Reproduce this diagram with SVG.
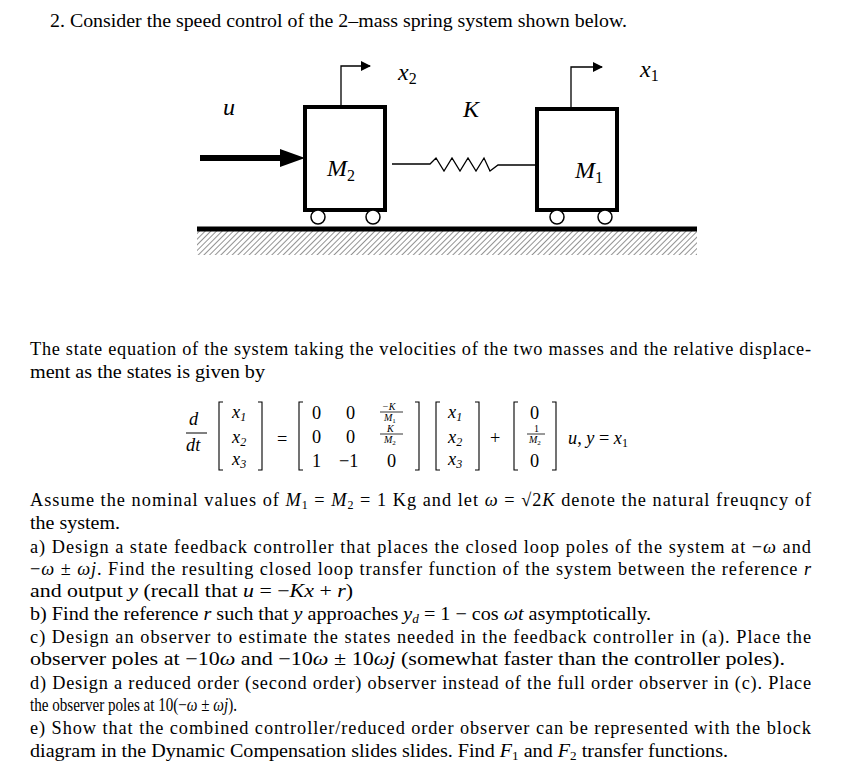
<svg xmlns="http://www.w3.org/2000/svg" width="857" height="774" viewBox="0 0 857 774" font-family="'Liberation Serif', 'DejaVu Serif', serif">
<defs>
<pattern id="hatch" width="4" height="4" patternUnits="userSpaceOnUse" patternTransform="rotate(45)"><rect width="4" height="4" fill="#fff"/><line x1="0" y1="0" x2="0" y2="4" stroke="#777" stroke-width="1.6"/></pattern>
<marker id="ah" viewBox="0 0 10 10" refX="9" refY="5" markerWidth="10" markerHeight="10" markerUnits="userSpaceOnUse" orient="auto"><path d="M0,0L10,5L0,10z" fill="#000"/></marker>
</defs>
<style>
text{font-family:'Liberation Serif','DejaVu Serif',serif;font-size:18.3px;fill:#000}
.i{font-style:italic}
.big{font-size:24px}
.sm{font-size:12px}
text.fr{font-size:10px}
.fs{font-size:7px;font-style:normal}
.bs{font-size:16px;font-style:normal}
.box{fill:#fff;stroke:#000;stroke-width:4}
.wh{fill:#fff;stroke:#000;stroke-width:1.5}
.ln{fill:none;stroke:#000;stroke-width:1.3}
.br{fill:none;stroke:#000;stroke-width:1.1}
</style>
<rect width="857" height="774" fill="#fff"/>
<text x="50" y="27" textLength="577" lengthAdjust="spacingAndGlyphs">2. Consider the speed control of the 2–mass spring system shown below.</text>
<g id="ground"><rect x="197" y="231" width="500" height="24" fill="url(#hatch)"/><line x1="197" y1="229" x2="697" y2="229" stroke="#000" stroke-width="5"/></g>
<g id="connectors">
<line x1="200" y1="158" x2="282" y2="158" stroke="#000" stroke-width="6"/>
<path d="M280,149L305,158L280,167z" fill="#000"/>
<path class="ln" d="M341,107V66H370" marker-end="url(#ah)" stroke-width="1.5"/>
<path class="ln" d="M571,109V67H602" marker-end="url(#ah)" stroke-width="1.5"/>
<path class="ln" d="M392,164H430L436,158L444,171L452,158L460,171L468,158L476,171L484,158L490,171L498,165H537"/>
</g>
<g id="M2"><rect class="box" x="305" y="107" width="80" height="103"/><circle class="wh" cx="318" cy="217" r="7"/><circle class="wh" cx="373" cy="217" r="7"/><text class="i big" x="327" y="176">M<tspan class="bs" dy="5">2</tspan></text></g>
<g id="M1"><rect class="box" x="537" y="109" width="80" height="101"/><circle class="wh" cx="557" cy="217" r="7"/><circle class="wh" cx="605" cy="217" r="7"/><text class="i big" x="575" y="178">M<tspan class="bs" dy="5">1</tspan></text></g>
<text class="i big" x="223" y="115">u</text>
<text class="i big" x="463" y="117">K</text>
<text class="i big" x="398" y="80">x<tspan class="bs" dy="4">2</tspan></text>
<text class="i big" x="640" y="77">x<tspan class="bs" dy="4">1</tspan></text>

<text x="30" y="355" textLength="781" lengthAdjust="spacing">The state equation of the system taking the velocities of the two masses and the relative displace-</text>
<text x="30" y="378" textLength="235" lengthAdjust="spacingAndGlyphs">ment as the states is given by</text>

<g id="equation">
<text class="i" x="189" y="425">d</text><line x1="186" y1="433" x2="207" y2="433" stroke="#000"/><text class="i" x="186" y="451">dt</text>
<path class="br" d="M223,402h-4v68h4M258,402h4v68h-4"/>
<text class="i" x="232" y="418">x<tspan class="sm" dy="3">1</tspan></text>
<text class="i" x="232" y="443">x<tspan class="sm" dy="3">2</tspan></text>
<text class="i" x="232" y="465">x<tspan class="sm" dy="3">3</tspan></text>
<text x="277" y="445">=</text>
<path class="br" d="M303,402h-4v68h4M415,402h4v68h-4"/>
<text x="312" y="419">0</text><text x="346" y="419">0</text>
<text x="312" y="443">0</text><text x="346" y="443">0</text>
<text x="312" y="467">1</text><text x="339" y="467">−1</text>
<text class="i fr" x="382" y="410">−K</text><line x1="380" y1="412" x2="403" y2="412" stroke="#000" stroke-width="0.8"/><text class="i fr" x="384" y="421">M<tspan class="fs" dy="2">1</tspan></text>
<text class="i fr" x="387" y="432">K</text><line x1="380" y1="434" x2="403" y2="434" stroke="#000" stroke-width="0.8"/><text class="i fr" x="384" y="443">M<tspan class="fs" dy="2">2</tspan></text>
<text x="387" y="467">0</text>
<path class="br" d="M440,402h-4v68h4M475,402h4v68h-4"/>
<text class="i" x="448" y="418">x<tspan class="sm" dy="3">1</tspan></text>
<text class="i" x="448" y="443">x<tspan class="sm" dy="3">2</tspan></text>
<text class="i" x="448" y="465">x<tspan class="sm" dy="3">3</tspan></text>
<text x="490" y="444">+</text>
<path class="br" d="M518,402h-4v68h4M552,402h4v68h-4"/>
<text x="530" y="419">0</text>
<text class="fr" x="534" y="432">1</text><line x1="527" y1="434" x2="545" y2="434" stroke="#000" stroke-width="0.8"/><text class="i fr" x="529" y="443">M<tspan class="fs" dy="2">2</tspan></text>
<text x="530" y="467">0</text>
<text x="568" y="444"><tspan class="i">u</tspan>, <tspan class="i">y</tspan> = <tspan class="i">x</tspan><tspan class="sm" dy="3">1</tspan></text>
</g>

<text x="30" y="506" textLength="781" lengthAdjust="spacing">Assume the nominal values of <tspan class="i">M</tspan><tspan class="sm" dy="3">1</tspan><tspan dy="-3"> = </tspan><tspan class="i">M</tspan><tspan class="sm" dy="3">2</tspan><tspan dy="-3"> = 1 Kg and let </tspan><tspan class="i">ω</tspan> = √2<tspan class="i">K</tspan> denote the natural freuqncy of</text>
<text x="30" y="529" textLength="90" lengthAdjust="spacingAndGlyphs">the system.</text>
<text x="30" y="553" textLength="781" lengthAdjust="spacing">a) Design a state feedback controller that places the closed loop poles of the system at −<tspan class="i">ω</tspan> and</text>
<text x="30" y="575" textLength="781" lengthAdjust="spacing">−<tspan class="i">ω</tspan> ± <tspan class="i">ωj</tspan>. Find the resulting closed loop transfer function of the system between the reference <tspan class="i">r</tspan></text>
<text x="30" y="597" textLength="323" lengthAdjust="spacingAndGlyphs">and output <tspan class="i">y</tspan> (recall that <tspan class="i">u</tspan> = −<tspan class="i">Kx</tspan> + <tspan class="i">r</tspan>)</text>
<text x="30" y="620" textLength="621" lengthAdjust="spacingAndGlyphs">b) Find the reference <tspan class="i">r</tspan> such that <tspan class="i">y</tspan> approaches <tspan class="i">y</tspan><tspan class="sm i" dy="3">d</tspan><tspan dy="-3"> = 1 − cos </tspan><tspan class="i">ωt</tspan> asymptotically.</text>
<text x="30" y="643" textLength="781" lengthAdjust="spacing">c) Design an observer to estimate the states needed in the feedback controller in (a). Place the</text>
<text x="30" y="665" textLength="755" lengthAdjust="spacingAndGlyphs">observer poles at −10<tspan class="i">ω</tspan> and −10<tspan class="i">ω</tspan> ± 10<tspan class="i">ωj</tspan> (somewhat faster than the controller poles).</text>
<text x="30" y="689" textLength="781" lengthAdjust="spacing">d) Design a reduced order (second order) observer instead of the full order observer in (c). Place</text>
<text x="30" y="711" textLength="207" lengthAdjust="spacingAndGlyphs">the observer poles at 10(−<tspan class="i">ω</tspan> ± <tspan class="i">ωj</tspan>).</text>
<text x="30" y="734" textLength="781" lengthAdjust="spacing">e) Show that the combined controller/reduced order observer can be represented with the block</text>
<text x="30" y="757" textLength="698" lengthAdjust="spacingAndGlyphs">diagram in the Dynamic Compensation slides slides. Find <tspan class="i">F</tspan><tspan class="sm" dy="3">1</tspan><tspan dy="-3"> and </tspan><tspan class="i">F</tspan><tspan class="sm" dy="3">2</tspan><tspan dy="-3"> transfer functions.</tspan></text>
</svg>
